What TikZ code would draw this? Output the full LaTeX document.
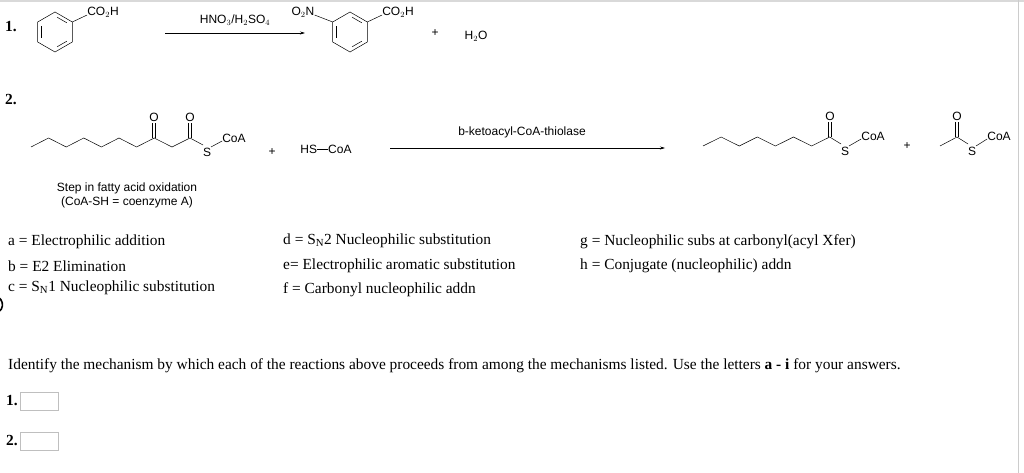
\documentclass[tikz,border=0pt]{standalone}
\usepackage{fontspec}
\setmainfont{Liberation Serif}
\newfontfamily\chem{Liberation Sans}
\usetikzlibrary{calc,arrows.meta}
\begin{document}
\begin{tikzpicture}[x=1pt,y=-1pt,
  bd/.style={line width=0.5pt},
  ch/.style={font=\chem\fontsize{12}{14}\selectfont, inner sep=0pt},
  tx/.style={font=\fontsize{15.4}{17}\selectfont, inner sep=0pt, anchor=west},
  bt/.style={font=\bfseries\fontsize{15.4}{17}\selectfont, inner sep=0pt, anchor=west},
  bx/.style={draw=black!25, minimum width=38pt, minimum height=18pt, inner sep=0pt, anchor=west},
  rx/.style={line width=0.6pt, -{Stealth[length=5pt,width=3pt]}}]
\useasboundingbox (0,0) rectangle (1024,473);
\fill[white] (0,0) rectangle (1024,473);
\draw[black!15, line width=2pt] (0,1) -- (1024,1);
\draw[black!20, line width=1pt] (1018,0) -- (1018,473);
% numbers
\node[bt] (n1) at (5,27) {1.};
\node[bt] (n2) at (5,100) {2.};
% benzenes
\foreach \c/\nm in {55/a,350/b}{
  \coordinate (\nm c) at (\c,32);
  \foreach \i in {0,...,5}{\coordinate (\nm\i) at ({\c+20*cos(90-60*\i)},{32-20*sin(90-60*\i)});}
  \draw[bd] (\nm0)--(\nm1)--(\nm2)--(\nm3)--(\nm4)--(\nm5)--cycle;
  \foreach \p/\q in {0/1,2/3,4/5}{
    \draw[bd] ($($(\nm c)!0.8!(\nm\p)$)!0.15!($(\nm c)!0.8!(\nm\q)$)$) -- ($($(\nm c)!0.8!(\nm\p)$)!0.85!($(\nm c)!0.8!(\nm\q)$)$);
  }
}
\node[ch] (co1) at (103,12) {CO$_2$H};
\draw[bd] (a1) -- (co1.west|-0,15) ;
\node[ch] (co2) at (398,12) {CO$_2$H};
\draw[bd] (b1) -- (co2.west|-0,15);
\node[ch] (no2) at (303,12) {O$_2$N};
\draw[bd] (b5) -- (no2.east|-0,15);
\node[ch] (r1) at (235,20) {HNO$_3$/H$_2$SO$_4$};
\coordinate (r1s) at (165,33); \coordinate (r1e) at (305,33);
\draw[rx] (r1s) -- (r1e);
\node[ch] (p1) at (435,33) {+};
\node[ch] (h2o) at (476,36) {H$_2$O};
% reaction 2 reactant
\draw[bd] (31,147) \foreach \k in {1,...,7}{ -- ({31+17.6*\k},{\k==1||\k==3||\k==5||\k==7 ? 138 : 147})} coordinate (k1)
  -- (172,147) -- (190,138) coordinate (k2) -- (203,145);
\node[ch] (o1) at (154,117) {O};
\node[ch] (o2) at (190,117) {O};
\draw[bd] (152.5,138) -- (152.5,123); \draw[bd] (155.5,138) -- (155.5,123);
\draw[bd] (188.5,138) -- (188.5,123); \draw[bd] (191.5,138) -- (191.5,123);
\node[ch] (s1) at (207,152) {S};
\node[ch] (coa1) at (234,138) {CoA};
\draw[bd] (211,147) -- (coa1.west|-0,141);
\node[ch] (p2) at (272,152) {+};
\node[ch] (hs) at (326,149) {HS\rule[3.8pt]{11pt}{0.6pt}CoA};
\node[ch] (r2) at (522,132) {b-ketoacyl-CoA-thiolase};
\coordinate (r2s) at (390,148); \coordinate (r2e) at (665,148);
\draw[rx] (r2s) -- (r2e);
\node[ch, align=center] (step) at (127,195) {Step in fatty acid oxidation\\(CoA-SH = coenzyme A)};
% product 1
\draw[bd] (703,146) \foreach \k in {1,...,7}{ -- ({703+18.1*\k},{\k==1||\k==3||\k==5||\k==7 ? 137 : 146})} -- (841,144);
\draw[bd] (828.2,137) -- (828.2,122); \draw[bd] (831.2,137) -- (831.2,122);
\node[ch] (o3) at (830,116) {O};
\node[ch] (s2) at (845,151) {S};
\node[ch] (coa2) at (873,136) {CoA};
\draw[bd] (849,146) -- (coa2.west|-0,139);
\node[ch] (p3) at (907,146) {+};
% acetyl
\draw[bd] (940,146) -- (957,137) -- (968,144);
\draw[bd] (955.5,137) -- (955.5,122); \draw[bd] (958.5,137) -- (958.5,122);
\node[ch] (o4) at (957,116) {O};
\node[ch] (s3) at (972,151) {S};
\node[ch] (coa3) at (999,136) {CoA};
\draw[bd] (976,146) -- (coa3.west|-0,139);
% mechanisms
\node[tx] (ma) at (8,242) {a = Electrophilic addition};
\node[tx] (mb) at (8,266) {b = E2 Elimination};
\node[tx] (mc) at (8,288) {c = S$_\mathrm{N}$1 Nucleophilic substitution};
\node[tx] (md) at (283,241) {d = S$_\mathrm{N}$2 Nucleophilic substitution};
\node[tx] (me) at (283,266) {e= Electrophilic aromatic substitution};
\node[tx] (mf) at (283,290) {f = Carbonyl nucleophilic addn};
\node[tx] (mg) at (580,242) {g = Nucleophilic subs at carbonyl(acyl Xfer)};
\node[tx] (mh) at (580,266) {h = Conjugate (nucleophilic) addn};
\draw[line width=1.6pt] (-2,297) arc[start angle=60, end angle=-60, radius=9pt];
\node[tx] (q) at (8,366) {Identify the mechanism by which each of the reactions above proceeds from among the mechanisms listed. Use the letters \textbf{a - i} for your answers.};
\node[bt] (a1l) at (6,401) {1.};
\node[bx] (box1) at (20,401) {};
\node[bt] (a2l) at (6,441) {2.};
\node[bx] (box2) at (20,441) {};
\end{tikzpicture}
\end{document}
